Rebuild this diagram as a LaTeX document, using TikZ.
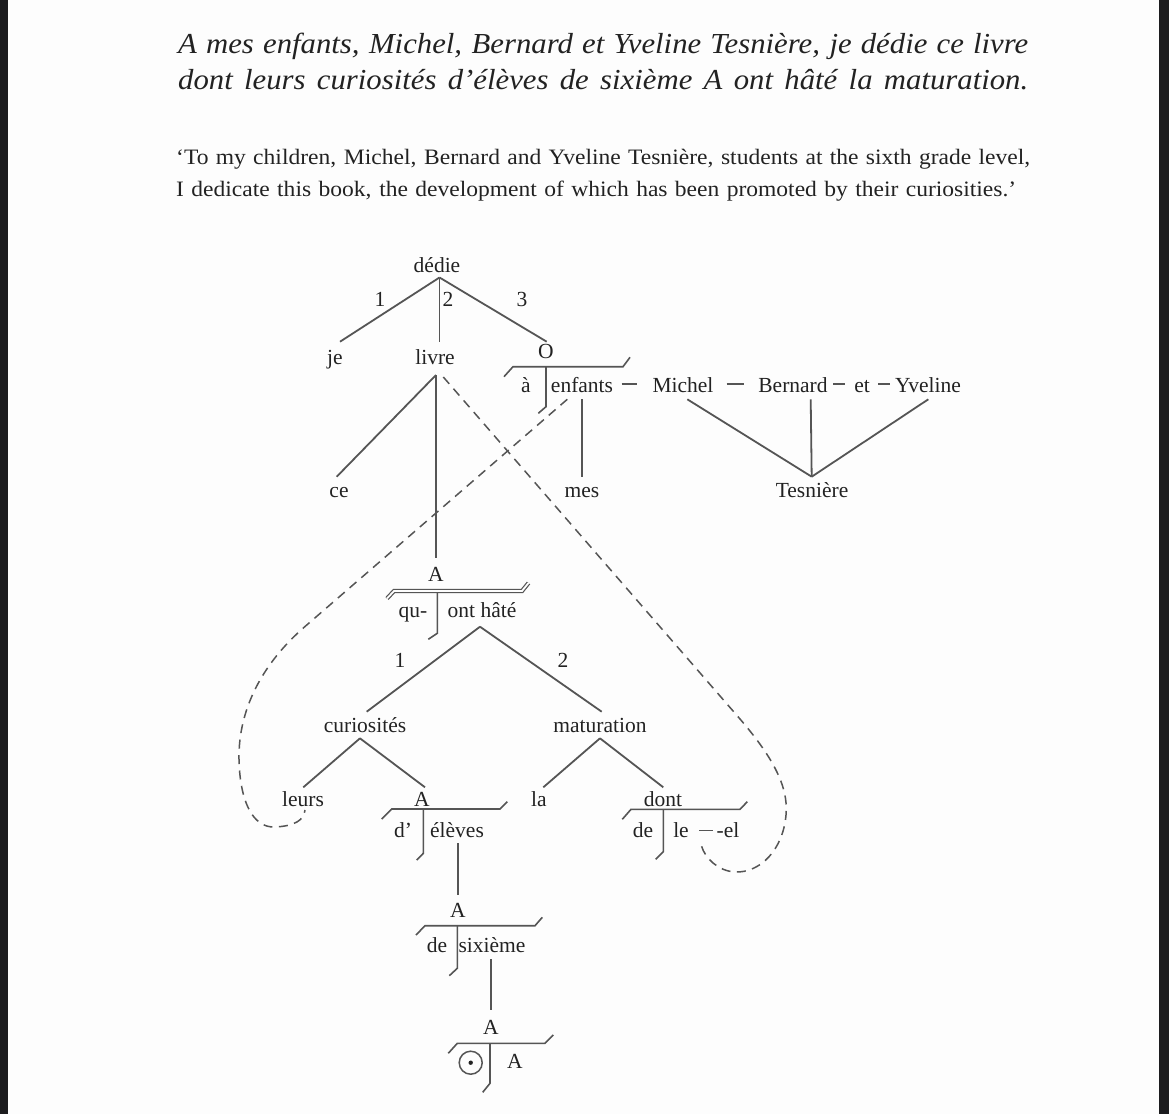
\documentclass[tikz,border=0pt]{standalone}
\usepackage{fontspec}
\setmainfont{Liberation Serif}
\newfontfamily\titlefont[FakeStretch=1.06]{Liberation Serif}
\newfontfamily\trfont[FakeStretch=1.07]{Liberation Serif}
\definecolor{txt}{HTML}{222222}
\definecolor{lc}{HTML}{555555}
\definecolor{pagebg}{HTML}{FDFDFD}
\definecolor{edgebar}{HTML}{1C1C1E}
\newcommand{\lblfont}{\fontsize{21.5}{25}\selectfont}
\begin{document}
\begin{tikzpicture}[x=1pt,y=-1pt,
  lbl/.style={font=\lblfont, text=txt, inner sep=0pt, anchor=base},
  ttl/.style={font=\titlefont\itshape\fontsize{29}{34}\selectfont, text=txt, inner sep=0pt, anchor=base west},
  trl/.style={font=\trfont\fontsize{22}{26}\selectfont, text=txt, inner sep=0pt, anchor=base west},
  stem/.style={draw=lc, line width=1.8pt},
  tline/.style={draw=lc, line width=1.6pt},
  dline/.style={draw=lc, line width=1.5pt, dash pattern=on 9pt off 6.5pt},
  dbl/.style={draw=lc, line width=1.2pt, double=pagebg, double distance=1.8pt}
]
\useasboundingbox (0,0) rectangle (1169,1114);
\fill[pagebg] (0,0) rectangle (1169,1114);
\fill[edgebar] (0,0) rectangle (8,1114);
\fill[edgebar] (1159,0) rectangle (1169,1114);

% ---------- header text ----------
\node[ttl] (t1) at (178,53) {\makebox[850pt][s]{A mes enfants, Michel, Bernard et Yveline Tesnière, je dédie ce livre}};
\node[ttl] (t2) at (178,89) {\makebox[850pt][s]{dont leurs curiosités d’élèves de sixième A ont hâté la maturation.}};
\node[trl] (e1) at (176,164) {\makebox[854pt][s]{‘To my children, Michel, Bernard and Yveline Tesnière, students at the sixth grade level,}};
\node[trl] (e2) at (176,196) {\makebox[840pt][s]{I dedicate this book, the development of which has been promoted by their curiosities.’}};

% ---------- words ----------
\node[lbl] (dedie) at (437,272) {dédie};
\node[lbl] (n1) at (380,306) {1};
\node[lbl] (n2) at (448,306) {2};
\node[lbl] (n3) at (522,306) {3};
\node[lbl] (je) at (335,364) {je};
\node[lbl] (livre) at (435,364) {livre};
\node[lbl] (O) at (546,358) {O};
\node[lbl] (a) at (526,392) {à};
\node[lbl] (enfants) at (582,392) {enfants};
\node[lbl] (michel) at (683,392) {Michel};
\node[lbl] (bernard) at (793,392) {Bernard};
\node[lbl] (et) at (862,392) {et};
\node[lbl] (yveline) at (928,392) {Yveline};
\node[lbl] (ce) at (339,497) {ce};
\node[lbl] (mes) at (582,497) {mes};
\node[lbl] (tesniere) at (812,497) {Tesnière};
\node[lbl] (A1) at (436,581) {A};
\node[lbl] (qu) at (413,617) {qu-};
\node[lbl] (onthate) at (482,617) {ont hâté};
\node[lbl] (m1) at (400,667) {1};
\node[lbl] (m2) at (563,667) {2};
\node[lbl] (curiosites) at (365,732) {curiosités};
\node[lbl] (maturation) at (600,732) {maturation};
\node[lbl] (leurs) at (303,806) {leurs};
\node[lbl] (A2) at (422,806) {A};
\node[lbl] (la) at (539,806) {la};
\node[lbl] (dont) at (663,806) {dont};
\node[lbl] (dap) at (403,837) {d’};
\node[lbl] (eleves) at (457,837) {élèves};
\node[lbl] (de1) at (643,837) {de};
\node[lbl] (le) at (681,837) {le};
\node[lbl] (el) at (728,837) {-el};
\node[lbl] (A3) at (458,917) {A};
\node[lbl] (de2) at (437,952) {de};
\node[lbl] (sixieme) at (492,952) {sixième};
\node[lbl] (A4) at (491,1034) {A};
\node[lbl] (A5) at (515,1068) {A};
\node[draw=lc, line width=1.5pt, circle, minimum size=23pt, inner sep=0pt] (circ) at (470.7,1062.7) {};
\fill[txt] (circ.center) circle (2.2pt);

% ---------- connector end points ----------
\coordinate (dedie-b) at (439.5,277.5);
\coordinate (je-t) at (340,341.7);
\coordinate (livre-t) at (439.5,341.7);
\coordinate (O-t) at (546.7,341.7);
\coordinate (livre-b) at (436,375);
\coordinate (ce-t) at (336.7,476.7);
\coordinate (A1-t) at (436,558.3);
\coordinate (enf-b) at (581.7,399.3);
\coordinate (mes-t) at (581.7,476.7);
\coordinate (mic-b) at (687.3,399.3);
\coordinate (ber-b) at (810.7,399.3);
\coordinate (yve-b) at (928.3,399.3);
\coordinate (tes-t) at (811.7,476.7);
\coordinate (oh-b) at (480,626.7);
\coordinate (cur-t) at (366.7,711.7);
\coordinate (mat-t) at (601.7,711.7);
\coordinate (cur-b) at (360,738.3);
\coordinate (leurs-t) at (303.3,787.3);
\coordinate (A2-t) at (425,787.3);
\coordinate (mat-b) at (600,738.3);
\coordinate (la-t) at (543.3,787.3);
\coordinate (dont-t) at (663.3,787.3);
\coordinate (ele-b) at (458.3,843.3);
\coordinate (A3-t) at (458.3,895);
\coordinate (six-b) at (491,959);
\coordinate (A4-t) at (491,1010);

% ---------- stemma lines ----------
\draw[stem] (dedie-b) -- (je-t);
\draw[stem] (dedie-b) -- (livre-t);
\draw[stem] (dedie-b) -- (O-t);
\draw[stem] (livre-b) -- (ce-t);
\draw[stem] (livre-b) -- (A1-t);
\draw[stem] (enf-b) -- (mes-t);
\draw[stem] (mic-b) -- (tes-t);
\draw[stem] (ber-b) -- (tes-t);
\draw[stem] (yve-b) -- (tes-t);
\draw[stem] (oh-b) -- (cur-t);
\draw[stem] (oh-b) -- (mat-t);
\draw[stem] (cur-b) -- (leurs-t);
\draw[stem] (cur-b) -- (A2-t);
\draw[stem] (mat-b) -- (la-t);
\draw[stem] (mat-b) -- (dont-t);
\draw[stem] (ele-b) -- (A3-t);
\draw[stem] (six-b) -- (A4-t);

% junction dashes
\draw[tline] (621.5,384) -- (636.5,384);
\draw[tline] (726.7,384) -- (744,384);
\draw[tline] (833.3,384) -- (845,384);
\draw[tline] (878.3,384) -- (890,384);
\draw[tline] (699.3,830.5) -- (713.3,830.5);

% ---------- translation signs ----------
\draw[tline] (504,376.7) -- (513,366.7) -- (623,366.7) -- (630,357.3);
\draw[tline] (546,366.7) -- (546,406.7) -- (538.3,413.3);

\draw[dbl] (387,598.5) -- (394,591) -- (522,591) -- (528.5,583);
\draw[tline] (437.3,593) -- (437.3,633.3) -- (428.3,639.3);

\draw[tline] (381.7,819) -- (391.7,809) -- (500,809) -- (507.3,801.7);
\draw[tline] (423.3,809) -- (423.3,853.3) -- (416.7,860);

\draw[tline] (622.3,819.3) -- (631,809.3) -- (740,809.3) -- (747.3,801.7);
\draw[tline] (663.3,809.3) -- (663.3,851.7) -- (655.7,859.3);

\draw[tline] (416,935) -- (425,925.7) -- (535,925.7) -- (542.3,917.3);
\draw[tline] (457.3,925.7) -- (457.3,968.3) -- (449.3,975.7);

\draw[tline] (448.3,1053.3) -- (457.3,1043.3) -- (545,1043.3) -- (553.3,1035);
\draw[tline] (490,1043.3) -- (490,1083.3) -- (482.7,1092.3);

% ---------- anaphoric dashed links ----------
\coordinate (ana1-s) at (443.3,377);
\coordinate (ana1-e) at (701.5,846);
\draw[dline] (ana1-s) -- (740,719)
  .. controls (770,754) and (789,785) .. (786,815)
  .. controls (783,850) and (760,873) .. (735,872)
  .. controls (718,871) and (705,858) .. (ana1-e);

\coordinate (ana2-s) at (567.3,399.3);
\coordinate (ana2-e) at (305,810);
\draw[dline] (ana2-s) -- (305,626.5)
  .. controls (262,663.7) and (238,710) .. (239,760)
  .. controls (240,800) and (252,828) .. (275,827)
  .. controls (295,826) and (304,820) .. (ana2-e);
\end{tikzpicture}
\end{document}
